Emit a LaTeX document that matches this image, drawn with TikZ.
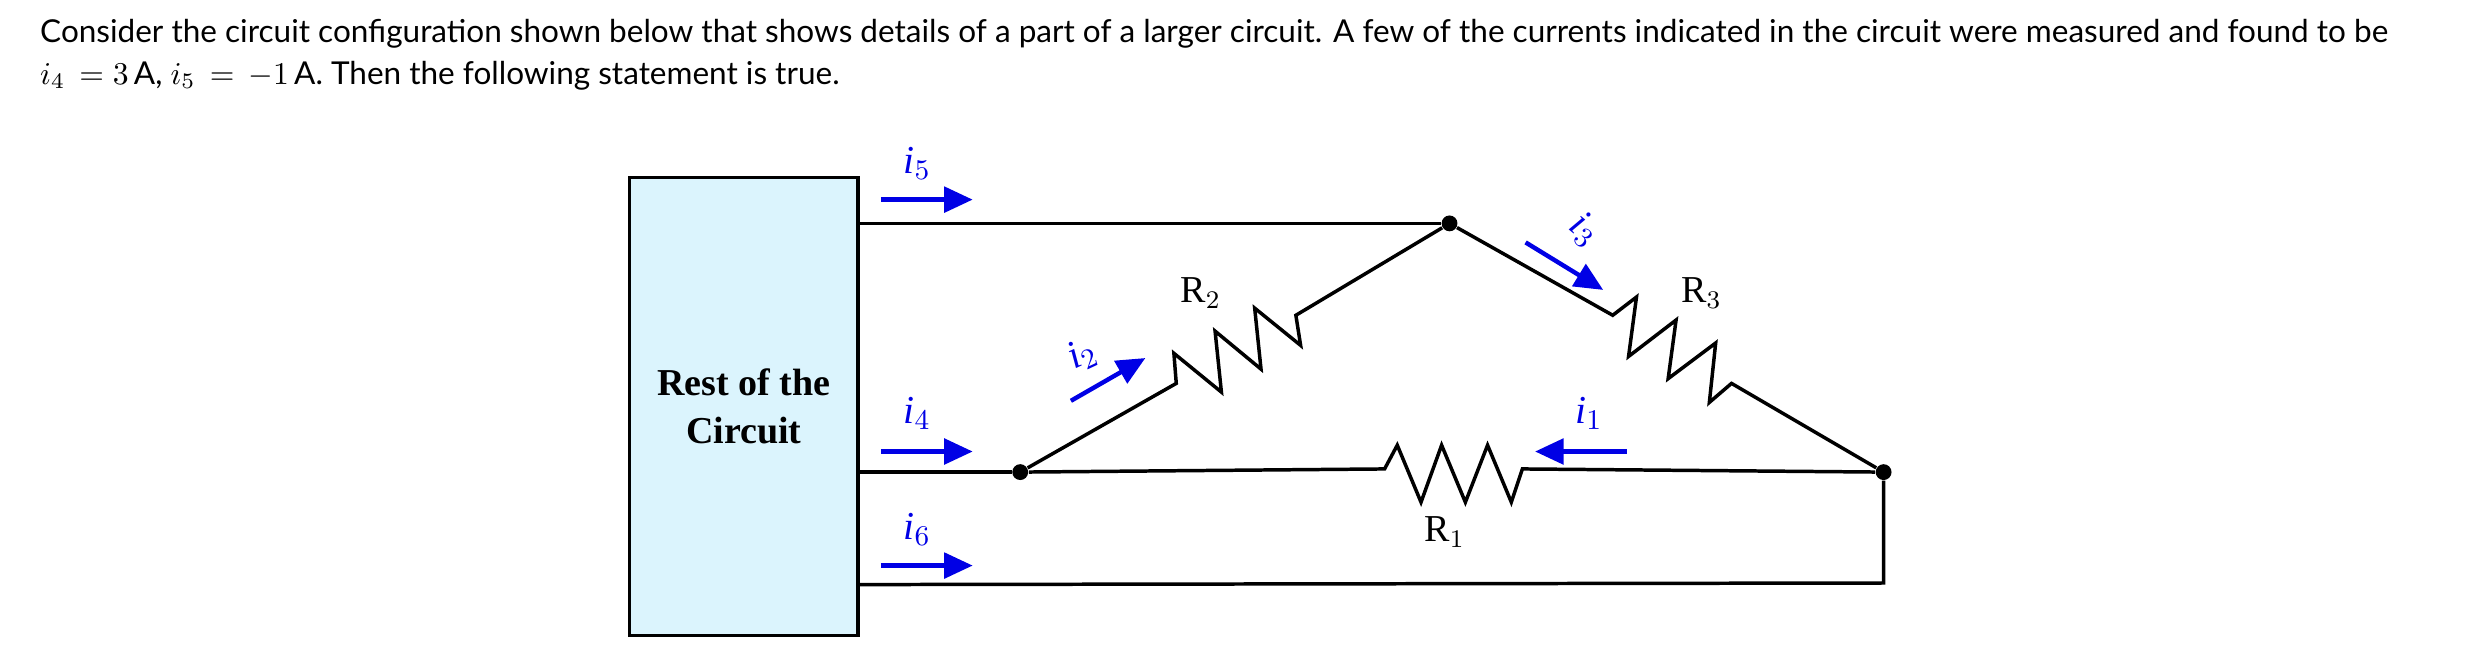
\documentclass[tikz,border=0pt]{standalone}
\usepackage{fontspec}
\setmainfont{Lato}
\newfontfamily\tms{Liberation Serif}
\usetikzlibrary{arrows.meta}
\begin{document}
\begin{tikzpicture}[x=0.5pt,y=-0.5pt,
  wire/.style={line width=1.1pt,black},
  cur/.style={blue!90!black,line width=1.4pt,-{Triangle[length=9pt,width=8pt]}},
  lab/.style={text=blue!90!black,font=\tms\itshape\fontsize{12.5}{12.5}\selectfont},
  rl/.style={font=\tms\fontsize{12}{12}\selectfont},
  dot/.style={circle,fill=black,inner sep=0pt,minimum size=5pt}]
\useasboundingbox (0,0) rectangle (1568,420);
\node[anchor=north west,align=left,inner sep=0pt,font=\fontsize{9.95}{13}\selectfont] (title) at (25,12)
 {Consider the circuit configuration shown below that shows details of a part of a larger circuit. A few of the currents indicated in the circuit were measured and found to be\\
 $i_4\,=3$\,A, $i_5\,=\,-1$\,A. Then the following statement is true.};
\node[draw,line width=1.1pt,fill=cyan!14,minimum width=72pt,minimum height=144.5pt,inner sep=0pt,
  font=\tms\bfseries\fontsize{12}{15}\selectfont,align=center] (box) at (469.5,256.5) {Rest of the\\Circuit};
\node[dot] (a) at (915,141) {};
\node[dot] (b) at (644,298) {};
\node[dot] (c) at (1189,298) {};
\coordinate (t) at (542,141);
\coordinate (m) at (542,298);
\coordinate (u) at (542,369);
\coordinate (v) at (1189,368);
\draw[wire] (t) -- (a);
\draw[wire] (m) -- (b);
\draw[wire] (u) -- (v) -- (c);
\draw[wire,line join=miter] (b) -- (742.5,242) -- (741,223) -- (771,247.5) -- (767,209) -- (796,233) -- (792,194.5) -- (821,218) -- (818,199) -- (a);
\draw[wire,line join=miter] (a) -- (1018,199) -- (1033,187.5) -- (1028,225) -- (1058,202) -- (1053,239) -- (1083,216.5) -- (1079,254) -- (1093,242) -- (c);
\draw[wire,line join=miter] (b) -- (874,296) -- (882,281) -- (897,317) -- (910,281) -- (925,317) -- (939,281) -- (954,317) -- (961,296) -- (c);
\node[rl] (r2) at (758,185) {R$_2$};
\node[rl] (r3) at (1074,185) {R$_3$};
\node[rl] (r1) at (912,336) {R$_1$};
\coordinate (s5) at (556,126); \coordinate (e5) at (614,126);
\coordinate (s4) at (556,285); \coordinate (e4) at (614,285);
\coordinate (s6) at (556,357); \coordinate (e6) at (614,357);
\coordinate (s2) at (676,253); \coordinate (e2) at (723,226);
\coordinate (s3) at (963,153); \coordinate (e3) at (1012,183);
\coordinate (s1) at (1027,285); \coordinate (e1) at (969,285);
\draw[cur] (s5) -- (e5); \draw[cur] (s4) -- (e4); \draw[cur] (s6) -- (e6);
\draw[cur] (s2) -- (e2); \draw[cur] (s3) -- (e3); \draw[cur] (s1) -- (e1);
\node[lab] (l5) at (579,103) {i$_5$};
\node[lab] (l4) at (579,261) {i$_4$};
\node[lab] (l6) at (579,334) {i$_6$};
\node[lab,rotate=25] (l2) at (683,224) {i$_2$};
\node[lab,rotate=-40] (l3) at (1000,145) {i$_3$};
\node[lab] (l1) at (1003,261) {i$_1$};
\end{tikzpicture}
\end{document}
